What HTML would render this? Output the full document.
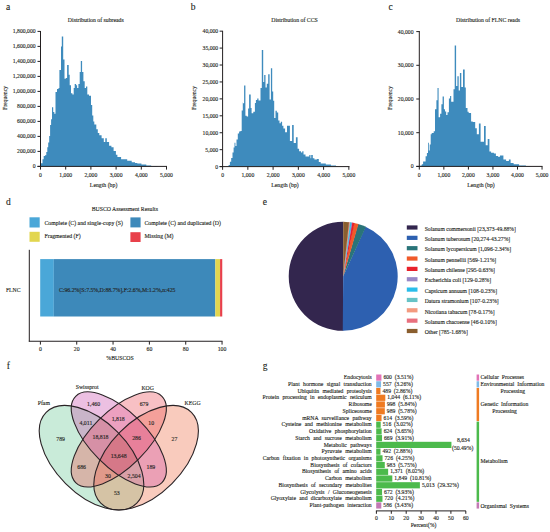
<!DOCTYPE html>
<html><head><meta charset="utf-8"><style>
html,body{margin:0;padding:0;background:#fff;}
svg{display:block;}
text{font-family:"Liberation Serif", serif;stroke:#231f20;stroke-width:0.12px;}
</style></head><body>
<svg width="550" height="532" viewBox="0 0 550 532">
<rect width="550" height="532" fill="#fff"/>
<path d="M40.90,166.40 L40.90,163.20 L42.50,163.20 L42.50,159.20 L43.70,159.20 L43.70,156.00 L45.00,156.00 L45.00,155.20 L46.30,155.20 L46.30,152.00 L47.30,152.00 L47.30,147.20 L48.20,147.20 L48.20,142.40 L49.20,142.40 L49.20,136.00 L50.10,136.00 L50.10,124.90 L51.10,124.90 L51.10,119.30 L52.00,119.30 L52.00,107.30 L53.20,107.30 L53.20,112.10 L54.30,112.10 L54.30,113.70 L55.50,113.70 L55.50,92.00 L57.00,92.00 L57.00,89.00 L58.50,89.00 L58.50,88.00 L59.40,88.00 L59.40,70.10 L61.00,70.10 L61.00,46.40 L61.80,46.40 L61.80,36.60 L63.20,36.60 L63.20,59.60 L64.50,59.60 L64.50,78.70 L65.80,78.70 L65.80,78.00 L67.10,78.00 L67.10,64.90 L68.70,64.90 L68.70,74.70 L69.70,74.70 L69.70,85.30 L71.00,85.30 L71.00,93.20 L72.40,93.20 L72.40,94.50 L73.70,94.50 L73.70,87.90 L74.70,87.90 L74.70,84.00 L76.10,84.00 L76.10,85.30 L77.10,85.30 L77.10,87.90 L78.40,87.90 L78.40,84.00 L79.70,84.00 L79.70,72.10 L80.80,72.10 L80.80,60.90 L82.10,60.90 L82.10,72.10 L83.40,72.10 L83.40,81.30 L84.70,81.30 L84.70,87.90 L86.00,87.90 L86.00,86.60 L87.30,86.60 L87.30,94.50 L89.00,94.50 L89.00,95.80 L91.00,95.80 L91.00,105.00 L92.20,105.00 L92.20,115.60 L93.30,115.60 L93.30,121.60 L94.30,121.60 L94.30,124.60 L96.30,124.60 L96.30,129.20 L97.80,129.20 L97.80,132.90 L99.30,132.90 L99.30,135.20 L101.60,135.20 L101.60,138.20 L103.80,138.20 L103.80,142.00 L105.30,142.00 L105.30,138.20 L106.80,138.20 L106.80,142.00 L109.10,142.00 L109.10,145.70 L111.40,145.70 L111.40,147.20 L113.60,147.20 L113.60,151.00 L115.90,151.00 L115.90,154.80 L117.40,154.80 L117.40,157.00 L121.10,157.00 L121.10,159.30 L127.20,159.30 L127.20,160.80 L131.70,160.80 L131.70,162.30 L135.00,162.30 L135.00,163.00 L137.30,163.00 L137.30,163.60 L141.40,163.60 L141.40,164.60 L146.30,164.60 L146.30,165.40 L151.20,165.40 L151.20,165.90 L156.00,165.90 L156.00,166.10 L159.00,166.40 Z" fill="#3e8bbd"/>
<line x1="40.50" y1="31.00" x2="40.50" y2="166.85" stroke="#231f20" stroke-width="1.0"/>
<line x1="37.50" y1="166.40" x2="40.50" y2="166.40" stroke="#231f20" stroke-width="1.0"/>
<text x="35.60" y="168.35" font-size="5.7" text-anchor="end" fill="#231f20" transform="matrix(1 0 0 1.09 0 -15.152)" >0</text>
<line x1="37.50" y1="151.40" x2="40.50" y2="151.40" stroke="#231f20" stroke-width="1.0"/>
<text x="35.60" y="153.35" font-size="5.7" text-anchor="end" fill="#231f20" transform="matrix(1 0 0 1.09 0 -13.802)" >200,000</text>
<line x1="37.50" y1="136.40" x2="40.50" y2="136.40" stroke="#231f20" stroke-width="1.0"/>
<text x="35.60" y="138.35" font-size="5.7" text-anchor="end" fill="#231f20" transform="matrix(1 0 0 1.09 0 -12.452)" >400,000</text>
<line x1="37.50" y1="121.40" x2="40.50" y2="121.40" stroke="#231f20" stroke-width="1.0"/>
<text x="35.60" y="123.35" font-size="5.7" text-anchor="end" fill="#231f20" transform="matrix(1 0 0 1.09 0 -11.102)" >600,000</text>
<line x1="37.50" y1="106.40" x2="40.50" y2="106.40" stroke="#231f20" stroke-width="1.0"/>
<text x="35.60" y="108.35" font-size="5.7" text-anchor="end" fill="#231f20" transform="matrix(1 0 0 1.09 0 -9.752)" >800,000</text>
<line x1="37.50" y1="91.40" x2="40.50" y2="91.40" stroke="#231f20" stroke-width="1.0"/>
<text x="35.60" y="93.35" font-size="5.7" text-anchor="end" fill="#231f20" transform="matrix(1 0 0 1.09 0 -8.402)" >1,000,000</text>
<line x1="37.50" y1="76.40" x2="40.50" y2="76.40" stroke="#231f20" stroke-width="1.0"/>
<text x="35.60" y="78.35" font-size="5.7" text-anchor="end" fill="#231f20" transform="matrix(1 0 0 1.09 0 -7.052)" >1,200,000</text>
<line x1="37.50" y1="61.40" x2="40.50" y2="61.40" stroke="#231f20" stroke-width="1.0"/>
<text x="35.60" y="63.35" font-size="5.7" text-anchor="end" fill="#231f20" transform="matrix(1 0 0 1.09 0 -5.702)" >1,400,000</text>
<line x1="37.50" y1="46.40" x2="40.50" y2="46.40" stroke="#231f20" stroke-width="1.0"/>
<text x="35.60" y="48.35" font-size="5.7" text-anchor="end" fill="#231f20" transform="matrix(1 0 0 1.09 0 -4.352)" >1,600,000</text>
<line x1="37.50" y1="31.40" x2="40.50" y2="31.40" stroke="#231f20" stroke-width="1.0"/>
<text x="35.60" y="33.35" font-size="5.7" text-anchor="end" fill="#231f20" transform="matrix(1 0 0 1.09 0 -3.002)" >1,800,000</text>
<line x1="37.50" y1="166.40" x2="167.00" y2="166.40" stroke="#231f20" stroke-width="1.0"/>
<line x1="40.50" y1="166.40" x2="40.50" y2="169.60" stroke="#231f20" stroke-width="1.0"/>
<text x="40.50" y="177.25" font-size="5.7" text-anchor="middle" fill="#231f20" transform="matrix(1 0 0 1.09 0 -15.953)" >0</text>
<line x1="65.70" y1="166.40" x2="65.70" y2="169.60" stroke="#231f20" stroke-width="1.0"/>
<text x="65.70" y="177.25" font-size="5.7" text-anchor="middle" fill="#231f20" transform="matrix(1 0 0 1.09 0 -15.953)" >1,000</text>
<line x1="90.90" y1="166.40" x2="90.90" y2="169.60" stroke="#231f20" stroke-width="1.0"/>
<text x="90.90" y="177.25" font-size="5.7" text-anchor="middle" fill="#231f20" transform="matrix(1 0 0 1.09 0 -15.953)" >2,000</text>
<line x1="116.10" y1="166.40" x2="116.10" y2="169.60" stroke="#231f20" stroke-width="1.0"/>
<text x="116.10" y="177.25" font-size="5.7" text-anchor="middle" fill="#231f20" transform="matrix(1 0 0 1.09 0 -15.953)" >3,000</text>
<line x1="141.30" y1="166.40" x2="141.30" y2="169.60" stroke="#231f20" stroke-width="1.0"/>
<text x="141.30" y="177.25" font-size="5.7" text-anchor="middle" fill="#231f20" transform="matrix(1 0 0 1.09 0 -15.953)" >4,000</text>
<line x1="166.50" y1="166.40" x2="166.50" y2="169.60" stroke="#231f20" stroke-width="1.0"/>
<text x="166.50" y="177.25" font-size="5.7" text-anchor="middle" fill="#231f20" transform="matrix(1 0 0 1.09 0 -15.953)" >5,000</text>
<text x="103.60" y="187.35" font-size="5.8" text-anchor="middle" fill="#231f20" transform="matrix(1 0 0 1.09 0 -16.862)" >Length (bp)</text>
<text x="7.40" y="98.00" font-size="5.7" text-anchor="middle" fill="#231f20" transform="rotate(-90 7.40 98)">Frequency</text>
<text x="95.80" y="22.05" font-size="5.8" text-anchor="middle" fill="#231f20" transform="matrix(1 0 0 1.09 0 -1.985)" >Distribution of subreads</text>
<text x="6.00" y="10.00" font-size="9.5" text-anchor="start" fill="#231f20" >a</text>
<path d="M228.60,166.60 L228.60,165.10 L229.90,165.10 L229.90,161.80 L231.20,161.80 L231.20,157.90 L232.50,157.90 L232.50,152.60 L233.60,152.60 L233.60,147.40 L234.50,147.40 L234.50,142.80 L235.40,142.80 L235.40,146.00 L236.50,146.00 L236.50,139.50 L237.80,139.50 L237.80,133.60 L239.10,133.60 L239.10,131.60 L240.40,131.60 L240.40,130.90 L241.70,130.90 L241.70,110.50 L242.80,110.50 L242.80,102.60 L243.00,102.60 L243.00,103.20 L244.10,103.20 L244.10,85.40 L245.40,85.40 L245.40,115.80 L246.70,115.80 L246.70,116.40 L248.10,116.40 L248.10,108.40 L249.10,108.40 L249.10,94.60 L250.70,94.60 L250.70,108.00 L251.60,108.00 L251.60,113.20 L253.30,113.20 L253.30,111.80 L254.90,111.80 L254.90,103.00 L255.90,103.00 L255.90,99.90 L257.20,99.90 L257.20,98.60 L258.50,98.60 L258.50,100.50 L260.50,100.50 L260.50,88.00 L261.80,88.00 L261.80,49.90 L263.20,49.90 L263.20,82.10 L264.20,82.10 L264.20,74.90 L265.50,74.90 L265.50,87.60 L266.80,87.60 L266.80,83.70 L268.20,83.70 L268.20,74.20 L269.60,74.20 L269.60,99.50 L270.90,99.50 L270.90,68.20 L272.20,68.20 L272.20,91.60 L273.20,91.60 L273.20,100.80 L274.20,100.80 L274.20,117.90 L275.50,117.90 L275.50,110.70 L276.80,110.70 L276.80,112.60 L278.20,112.60 L278.20,120.50 L279.50,120.50 L279.50,123.20 L280.80,123.20 L280.80,121.80 L282.10,121.80 L282.10,125.80 L283.40,125.80 L283.40,128.40 L285.10,128.40 L285.10,132.20 L287.00,132.20 L287.00,125.80 L289.90,125.80 L289.90,141.10 L292.10,141.10 L292.10,124.90 L293.70,124.90 L293.70,143.00 L295.90,143.00 L295.90,137.30 L297.60,137.30 L297.60,148.70 L299.10,148.70 L299.10,151.30 L301.00,151.30 L301.00,152.50 L302.30,152.50 L302.30,151.30 L303.50,151.30 L303.50,154.50 L305.50,154.50 L305.50,156.40 L309.30,156.40 L309.30,155.10 L310.50,155.10 L310.50,158.30 L311.20,158.30 L311.20,155.10 L312.80,155.10 L312.80,158.30 L314.40,158.30 L314.40,159.50 L316.90,159.50 L316.90,158.90 L318.80,158.90 L318.80,162.10 L320.70,162.10 L320.70,163.40 L325.80,163.40 L325.80,164.60 L330.90,164.60 L330.90,165.50 L336.00,165.50 L336.00,166.00 L339.00,166.60 Z" fill="#3e8bbd"/>
<line x1="222.60" y1="30.80" x2="222.60" y2="167.05" stroke="#231f20" stroke-width="1.0"/>
<line x1="219.60" y1="166.60" x2="222.60" y2="166.60" stroke="#231f20" stroke-width="1.0"/>
<text x="218.20" y="168.55" font-size="5.7" text-anchor="end" fill="#231f20" transform="matrix(1 0 0 1.09 0 -15.170)" >0</text>
<line x1="219.60" y1="149.67" x2="222.60" y2="149.67" stroke="#231f20" stroke-width="1.0"/>
<text x="218.20" y="151.62" font-size="5.7" text-anchor="end" fill="#231f20" transform="matrix(1 0 0 1.09 0 -13.646)" >5,000</text>
<line x1="219.60" y1="132.74" x2="222.60" y2="132.74" stroke="#231f20" stroke-width="1.0"/>
<text x="218.20" y="134.69" font-size="5.7" text-anchor="end" fill="#231f20" transform="matrix(1 0 0 1.09 0 -12.122)" >10,000</text>
<line x1="219.60" y1="115.81" x2="222.60" y2="115.81" stroke="#231f20" stroke-width="1.0"/>
<text x="218.20" y="117.76" font-size="5.7" text-anchor="end" fill="#231f20" transform="matrix(1 0 0 1.09 0 -10.598)" >15,000</text>
<line x1="219.60" y1="98.88" x2="222.60" y2="98.88" stroke="#231f20" stroke-width="1.0"/>
<text x="218.20" y="100.83" font-size="5.7" text-anchor="end" fill="#231f20" transform="matrix(1 0 0 1.09 0 -9.075)" >20,000</text>
<line x1="219.60" y1="81.95" x2="222.60" y2="81.95" stroke="#231f20" stroke-width="1.0"/>
<text x="218.20" y="83.90" font-size="5.7" text-anchor="end" fill="#231f20" transform="matrix(1 0 0 1.09 0 -7.551)" >25,000</text>
<line x1="219.60" y1="65.02" x2="222.60" y2="65.02" stroke="#231f20" stroke-width="1.0"/>
<text x="218.20" y="66.97" font-size="5.7" text-anchor="end" fill="#231f20" transform="matrix(1 0 0 1.09 0 -6.027)" >30,000</text>
<line x1="219.60" y1="48.09" x2="222.60" y2="48.09" stroke="#231f20" stroke-width="1.0"/>
<text x="218.20" y="50.04" font-size="5.7" text-anchor="end" fill="#231f20" transform="matrix(1 0 0 1.09 0 -4.504)" >35,000</text>
<line x1="219.60" y1="31.16" x2="222.60" y2="31.16" stroke="#231f20" stroke-width="1.0"/>
<text x="218.20" y="33.11" font-size="5.7" text-anchor="end" fill="#231f20" transform="matrix(1 0 0 1.09 0 -2.980)" >40,000</text>
<line x1="219.60" y1="166.60" x2="349.50" y2="166.60" stroke="#231f20" stroke-width="1.0"/>
<line x1="222.60" y1="166.60" x2="222.60" y2="169.80" stroke="#231f20" stroke-width="1.0"/>
<text x="222.60" y="177.25" font-size="5.7" text-anchor="middle" fill="#231f20" transform="matrix(1 0 0 1.09 0 -15.953)" >0</text>
<line x1="247.85" y1="166.60" x2="247.85" y2="169.80" stroke="#231f20" stroke-width="1.0"/>
<text x="247.85" y="177.25" font-size="5.7" text-anchor="middle" fill="#231f20" transform="matrix(1 0 0 1.09 0 -15.953)" >1,000</text>
<line x1="273.10" y1="166.60" x2="273.10" y2="169.80" stroke="#231f20" stroke-width="1.0"/>
<text x="273.10" y="177.25" font-size="5.7" text-anchor="middle" fill="#231f20" transform="matrix(1 0 0 1.09 0 -15.953)" >2,000</text>
<line x1="298.35" y1="166.60" x2="298.35" y2="169.80" stroke="#231f20" stroke-width="1.0"/>
<text x="298.35" y="177.25" font-size="5.7" text-anchor="middle" fill="#231f20" transform="matrix(1 0 0 1.09 0 -15.953)" >3,000</text>
<line x1="323.60" y1="166.60" x2="323.60" y2="169.80" stroke="#231f20" stroke-width="1.0"/>
<text x="323.60" y="177.25" font-size="5.7" text-anchor="middle" fill="#231f20" transform="matrix(1 0 0 1.09 0 -15.953)" >4,000</text>
<line x1="348.85" y1="166.60" x2="348.85" y2="169.80" stroke="#231f20" stroke-width="1.0"/>
<text x="348.85" y="177.25" font-size="5.7" text-anchor="middle" fill="#231f20" transform="matrix(1 0 0 1.09 0 -15.953)" >5,000</text>
<text x="285.00" y="187.35" font-size="5.8" text-anchor="middle" fill="#231f20" transform="matrix(1 0 0 1.09 0 -16.862)" >Length (bp)</text>
<text x="195.80" y="98.00" font-size="5.7" text-anchor="middle" fill="#231f20" transform="rotate(-90 195.80 98)">Frequency</text>
<text x="294.50" y="22.05" font-size="5.8" text-anchor="middle" fill="#231f20" transform="matrix(1 0 0 1.09 0 -1.985)" >Distribution of CCS</text>
<text x="190.80" y="9.60" font-size="9.5" text-anchor="start" fill="#231f20" >b</text>
<path d="M420.30,166.40 L420.50,165.60 L421.80,165.60 L421.80,164.30 L423.10,164.30 L423.10,161.40 L425.60,161.40 L425.60,156.30 L426.90,156.30 L426.90,152.90 L428.00,152.90 L428.00,142.80 L428.80,142.80 L428.80,150.40 L429.70,150.40 L429.70,144.50 L430.70,144.50 L430.70,134.30 L431.70,134.30 L431.70,133.00 L433.70,133.00 L433.70,131.30 L435.00,131.30 L435.00,109.30 L436.40,109.30 L436.40,100.30 L437.50,100.30 L437.50,87.90 L438.60,87.90 L438.60,117.20 L440.10,117.20 L440.10,113.80 L441.40,113.80 L441.40,104.20 L442.60,104.20 L442.60,96.40 L443.90,96.40 L443.90,109.30 L445.00,109.30 L445.00,111.60 L446.20,111.60 L446.20,115.00 L447.50,115.00 L447.50,112.20 L448.90,112.20 L448.90,98.50 L450.10,98.50 L450.10,96.00 L451.20,96.00 L451.20,101.70 L453.50,101.70 L453.50,89.30 L454.70,89.30 L454.70,45.40 L456.10,45.40 L456.10,85.90 L457.40,85.90 L457.40,76.30 L458.70,76.30 L458.70,90.40 L459.90,90.40 L459.90,73.00 L461.30,73.00 L461.30,87.00 L463.00,87.00 L463.00,69.60 L464.70,69.60 L464.70,87.60 L465.80,87.60 L465.80,107.90 L467.50,107.90 L467.50,111.80 L468.70,111.80 L468.70,113.00 L470.90,113.00 L470.90,113.20 L471.10,113.20 L471.10,121.40 L472.70,121.40 L472.70,122.00 L475.20,122.00 L475.20,128.20 L476.80,128.20 L476.80,134.30 L478.90,134.30 L478.90,123.40 L480.60,123.40 L480.60,141.80 L484.00,141.80 L484.00,126.10 L485.70,126.10 L485.70,145.20 L487.70,145.20 L487.70,139.10 L489.40,139.10 L489.40,151.40 L491.10,151.40 L491.10,152.70 L493.90,152.70 L493.90,153.40 L495.90,153.40 L495.90,156.10 L498.00,156.10 L498.00,156.80 L500.00,156.80 L500.00,155.50 L503.40,155.50 L503.40,159.50 L506.10,159.50 L506.10,160.90 L508.90,160.90 L508.90,159.50 L510.60,159.50 L510.60,163.00 L513.60,163.00 L513.60,164.30 L519.10,164.30 L519.10,165.40 L525.90,165.40 L525.90,166.00 L530.00,166.00 L530.00,166.20 L533.00,166.40 Z" fill="#3e8bbd"/>
<line x1="419.30" y1="31.00" x2="419.30" y2="166.85" stroke="#231f20" stroke-width="1.0"/>
<line x1="416.30" y1="166.40" x2="419.30" y2="166.40" stroke="#231f20" stroke-width="1.0"/>
<text x="413.50" y="168.35" font-size="5.7" text-anchor="end" fill="#231f20" transform="matrix(1 0 0 1.09 0 -15.152)" >0</text>
<line x1="416.30" y1="132.70" x2="419.30" y2="132.70" stroke="#231f20" stroke-width="1.0"/>
<text x="413.50" y="134.65" font-size="5.7" text-anchor="end" fill="#231f20" transform="matrix(1 0 0 1.09 0 -12.119)" >10,000</text>
<line x1="416.30" y1="99.00" x2="419.30" y2="99.00" stroke="#231f20" stroke-width="1.0"/>
<text x="413.50" y="100.95" font-size="5.7" text-anchor="end" fill="#231f20" transform="matrix(1 0 0 1.09 0 -9.086)" >20,000</text>
<line x1="416.30" y1="65.30" x2="419.30" y2="65.30" stroke="#231f20" stroke-width="1.0"/>
<text x="413.50" y="67.25" font-size="5.7" text-anchor="end" fill="#231f20" transform="matrix(1 0 0 1.09 0 -6.053)" >30,000</text>
<line x1="416.30" y1="31.60" x2="419.30" y2="31.60" stroke="#231f20" stroke-width="1.0"/>
<text x="413.50" y="33.55" font-size="5.7" text-anchor="end" fill="#231f20" transform="matrix(1 0 0 1.09 0 -3.020)" >40,000</text>
<line x1="416.30" y1="166.40" x2="542.50" y2="166.40" stroke="#231f20" stroke-width="1.0"/>
<line x1="419.30" y1="166.40" x2="419.30" y2="169.60" stroke="#231f20" stroke-width="1.0"/>
<text x="419.30" y="177.25" font-size="5.7" text-anchor="middle" fill="#231f20" transform="matrix(1 0 0 1.09 0 -15.953)" >0</text>
<line x1="443.85" y1="166.40" x2="443.85" y2="169.60" stroke="#231f20" stroke-width="1.0"/>
<text x="443.85" y="177.25" font-size="5.7" text-anchor="middle" fill="#231f20" transform="matrix(1 0 0 1.09 0 -15.953)" >1,000</text>
<line x1="468.40" y1="166.40" x2="468.40" y2="169.60" stroke="#231f20" stroke-width="1.0"/>
<text x="468.40" y="177.25" font-size="5.7" text-anchor="middle" fill="#231f20" transform="matrix(1 0 0 1.09 0 -15.953)" >2,000</text>
<line x1="492.95" y1="166.40" x2="492.95" y2="169.60" stroke="#231f20" stroke-width="1.0"/>
<text x="492.95" y="177.25" font-size="5.7" text-anchor="middle" fill="#231f20" transform="matrix(1 0 0 1.09 0 -15.953)" >3,000</text>
<line x1="517.50" y1="166.40" x2="517.50" y2="169.60" stroke="#231f20" stroke-width="1.0"/>
<text x="517.50" y="177.25" font-size="5.7" text-anchor="middle" fill="#231f20" transform="matrix(1 0 0 1.09 0 -15.953)" >4,000</text>
<line x1="542.05" y1="166.40" x2="542.05" y2="169.60" stroke="#231f20" stroke-width="1.0"/>
<text x="542.05" y="177.25" font-size="5.7" text-anchor="middle" fill="#231f20" transform="matrix(1 0 0 1.09 0 -15.953)" >5,000</text>
<text x="481.00" y="187.35" font-size="5.8" text-anchor="middle" fill="#231f20" transform="matrix(1 0 0 1.09 0 -16.862)" >Length (bp)</text>
<text x="391.70" y="98.00" font-size="5.7" text-anchor="middle" fill="#231f20" transform="rotate(-90 391.70 98)">Frequency</text>
<text x="488.00" y="22.05" font-size="5.8" text-anchor="middle" fill="#231f20" transform="matrix(1 0 0 1.09 0 -1.985)" >Distribution of FLNC reads</text>
<text x="388.60" y="9.90" font-size="9.5" text-anchor="start" fill="#231f20" >c</text>
<text x="6.00" y="204.50" font-size="9.5" text-anchor="start" fill="#231f20" >d</text>
<text x="124.80" y="210.85" font-size="5.8" text-anchor="middle" fill="#231f20" transform="matrix(1 0 0 1.09 0 -18.977)" >BUSCO Assessment Results</text>
<rect x="29.50" y="217.30" width="10.20" height="10.20" fill="#4aa7d8" />
<rect x="130.40" y="217.40" width="10.20" height="10.00" fill="#3d89ba" />
<rect x="29.50" y="231.80" width="10.20" height="10.00" fill="#e2d64f" />
<rect x="130.40" y="232.20" width="10.20" height="9.80" fill="#e8404a" />
<text x="44.50" y="224.55" font-size="5.8" text-anchor="start" fill="#231f20" transform="matrix(1 0 0 1.09 0 -20.210)" >Complete (C) and single-copy (S)</text>
<text x="144.40" y="224.55" font-size="5.8" text-anchor="start" fill="#231f20" transform="matrix(1 0 0 1.09 0 -20.210)" >Complete (C) and duplicated (D)</text>
<text x="44.50" y="238.05" font-size="5.8" text-anchor="start" fill="#231f20" transform="matrix(1 0 0 1.09 0 -21.425)" >Fragmented (F)</text>
<text x="144.40" y="238.05" font-size="5.8" text-anchor="start" fill="#231f20" transform="matrix(1 0 0 1.09 0 -21.425)" >Missing (M)</text>
<rect x="40.20" y="259.10" width="13.65" height="57.40" fill="#4aa7d8" />
<rect x="53.85" y="259.10" width="161.48" height="57.40" fill="#3d89ba" />
<rect x="215.33" y="259.10" width="4.73" height="57.40" fill="#e2d64f" />
<rect x="220.07" y="259.10" width="2.18" height="57.40" fill="#e8404a" />
<text x="59.00" y="291.85" font-size="5.8" text-anchor="start" fill="#231f20" transform="matrix(1 0 0 1.09 0 -26.267)" >C:96.2%[S:7.5%,D:88.7%],F:2.6%,M:1.2%,n:425</text>
<text x="5.90" y="292.15" font-size="5.7" text-anchor="start" fill="#231f20" transform="matrix(1 0 0 1.09 0 -26.294)" >FLNC</text>
<line x1="29.30" y1="249.80" x2="29.30" y2="341.50" stroke="#231f20" stroke-width="1.0"/>
<line x1="28.80" y1="341.30" x2="222.50" y2="341.30" stroke="#231f20" stroke-width="1.1"/>
<line x1="40.40" y1="341.30" x2="40.40" y2="344.60" stroke="#231f20" stroke-width="1.0"/>
<text x="40.40" y="350.95" font-size="5.8" text-anchor="middle" fill="#231f20" transform="matrix(1 0 0 1.09 0 -31.586)" >0</text>
<line x1="76.73" y1="341.30" x2="76.73" y2="344.60" stroke="#231f20" stroke-width="1.0"/>
<text x="76.73" y="350.95" font-size="5.8" text-anchor="middle" fill="#231f20" transform="matrix(1 0 0 1.09 0 -31.586)" >20</text>
<line x1="113.06" y1="341.30" x2="113.06" y2="344.60" stroke="#231f20" stroke-width="1.0"/>
<text x="113.06" y="350.95" font-size="5.8" text-anchor="middle" fill="#231f20" transform="matrix(1 0 0 1.09 0 -31.586)" >40</text>
<line x1="149.39" y1="341.30" x2="149.39" y2="344.60" stroke="#231f20" stroke-width="1.0"/>
<text x="149.39" y="350.95" font-size="5.8" text-anchor="middle" fill="#231f20" transform="matrix(1 0 0 1.09 0 -31.586)" >60</text>
<line x1="185.72" y1="341.30" x2="185.72" y2="344.60" stroke="#231f20" stroke-width="1.0"/>
<text x="185.72" y="350.95" font-size="5.8" text-anchor="middle" fill="#231f20" transform="matrix(1 0 0 1.09 0 -31.586)" >80</text>
<line x1="222.05" y1="341.30" x2="222.05" y2="344.60" stroke="#231f20" stroke-width="1.0"/>
<text x="222.05" y="350.95" font-size="5.8" text-anchor="middle" fill="#231f20" transform="matrix(1 0 0 1.09 0 -31.586)" >100</text>
<text x="120.00" y="359.85" font-size="5.8" text-anchor="middle" fill="#231f20" transform="matrix(1 0 0 1.09 0 -32.387)" >%BUSCOS</text>
<text x="262.80" y="204.70" font-size="9.5" text-anchor="start" fill="#231f20" >e</text>
<path d="M343.20,276.35 L343.200,221.850 A54.5,54.5 0 0 0 343.231,330.850 Z" fill="#33264e"/>
<path d="M343.20,276.35 L342.755,330.848 A54.5,54.5 0 0 0 365.564,226.650 Z" fill="#2d60b0"/>
<path d="M343.20,276.35 L365.997,226.847 A54.5,54.5 0 0 0 358.044,223.910 Z" fill="#2a7479"/>
<path d="M343.20,276.35 L358.501,224.042 A54.5,54.5 0 0 0 354.019,222.935 Z" fill="#f05a2a"/>
<path d="M343.20,276.35 L354.484,223.031 A54.5,54.5 0 0 0 351.897,222.548 Z" fill="#e8212b"/>
<path d="M343.20,276.35 L352.366,222.626 A54.5,54.5 0 0 0 350.949,222.404 Z" fill="#9888c6"/>
<path d="M343.20,276.35 L351.420,222.473 A54.5,54.5 0 0 0 350.169,222.297 Z" fill="#29bdea"/>
<path d="M343.20,276.35 L350.640,222.360 A54.5,54.5 0 0 0 349.387,222.202 Z" fill="#66c3c6"/>
<path d="M343.20,276.35 L349.859,222.258 A54.5,54.5 0 0 0 348.809,222.139 Z" fill="#f39a7f"/>
<path d="M343.20,276.35 L349.281,222.190 A54.5,54.5 0 0 0 348.468,222.105 Z" fill="#e8707e"/>
<path d="M343.20,276.35 L348.941,222.153 A54.5,54.5 0 0 0 343.200,221.850 Z" fill="#8a5e2e"/>
<rect x="406.80" y="225.40" width="10.70" height="4.20" fill="#33264e" />
<text x="424.70" y="230.75" font-size="5.67" text-anchor="start" fill="#231f20" transform="matrix(1 0 0 1.09 0 -20.768)" >Solanum commersonii [23,373-49.88%]</text>
<rect x="406.80" y="235.75" width="10.70" height="4.20" fill="#2d60b0" />
<text x="424.70" y="241.10" font-size="5.67" text-anchor="start" fill="#231f20" transform="matrix(1 0 0 1.09 0 -21.699)" >Solanum tuberosum [20,274-43.27%]</text>
<rect x="406.80" y="246.10" width="10.70" height="4.20" fill="#2a7479" />
<text x="424.70" y="251.45" font-size="5.67" text-anchor="start" fill="#231f20" transform="matrix(1 0 0 1.09 0 -22.631)" >Solanum lycopersicum [1,096-2.34%]</text>
<rect x="406.80" y="256.45" width="10.70" height="4.20" fill="#f05a2a" />
<text x="424.70" y="261.80" font-size="5.67" text-anchor="start" fill="#231f20" transform="matrix(1 0 0 1.09 0 -23.562)" >Solanum pennellii [569-1.21%]</text>
<rect x="406.80" y="266.80" width="10.70" height="4.20" fill="#e8212b" />
<text x="424.70" y="272.15" font-size="5.67" text-anchor="start" fill="#231f20" transform="matrix(1 0 0 1.09 0 -24.494)" >Solanum chilense [295-0.63%]</text>
<rect x="406.80" y="277.15" width="10.70" height="4.20" fill="#9888c6" />
<text x="424.70" y="282.50" font-size="5.67" text-anchor="start" fill="#231f20" transform="matrix(1 0 0 1.09 0 -25.425)" >Escherichia coli [129-0.28%]</text>
<rect x="406.80" y="287.50" width="10.70" height="4.20" fill="#29bdea" />
<text x="424.70" y="292.85" font-size="5.67" text-anchor="start" fill="#231f20" transform="matrix(1 0 0 1.09 0 -26.357)" >Capsicum annuum [108-0.23%]</text>
<rect x="406.80" y="297.85" width="10.70" height="4.20" fill="#66c3c6" />
<text x="424.70" y="303.20" font-size="5.67" text-anchor="start" fill="#231f20" transform="matrix(1 0 0 1.09 0 -27.288)" >Datura stramonium [107-0.23%]</text>
<rect x="406.80" y="308.20" width="10.70" height="4.20" fill="#f39a7f" />
<text x="424.70" y="313.55" font-size="5.67" text-anchor="start" fill="#231f20" transform="matrix(1 0 0 1.09 0 -28.220)" >Nicotiana tabacum [78-0.17%]</text>
<rect x="406.80" y="318.55" width="10.70" height="4.20" fill="#e8707e" />
<text x="424.70" y="323.90" font-size="5.67" text-anchor="start" fill="#231f20" transform="matrix(1 0 0 1.09 0 -29.151)" >Solanum chacoense [46-0.10%]</text>
<rect x="406.80" y="328.90" width="10.70" height="4.20" fill="#8a5e2e" />
<text x="424.70" y="334.25" font-size="5.67" text-anchor="start" fill="#231f20" transform="matrix(1 0 0 1.09 0 -30.083)" >Other [785-1.68%]</text>
<text x="6.80" y="368.90" font-size="9.5" text-anchor="start" fill="#231f20" >f</text>
<defs>
<clipPath id="cP"><ellipse cx="91.5" cy="457.7" rx="64.1" ry="36.6" transform="rotate(45 91.5 457.7)" fill="#000" /></clipPath>
<clipPath id="cS"><ellipse cx="118.8" cy="439.4" rx="61.0" ry="28.0" transform="rotate(45 118.8 439.4)" fill="#000" /></clipPath>
<clipPath id="cK"><ellipse cx="118.8" cy="439.4" rx="61.0" ry="28.0" transform="rotate(-45 118.8 439.4)" fill="#000" /></clipPath>
<clipPath id="cE"><ellipse cx="146.1" cy="457.7" rx="64.1" ry="36.6" transform="rotate(-45 146.1 457.7)" fill="#000" /></clipPath>
</defs>
<ellipse cx="91.5" cy="457.7" rx="64.1" ry="36.6" transform="rotate(45 91.5 457.7)" fill="#c9ebd9" />
<ellipse cx="118.8" cy="439.4" rx="61.0" ry="28.0" transform="rotate(45 118.8 439.4)" fill="#ecc0e2" />
<ellipse cx="118.8" cy="439.4" rx="61.0" ry="28.0" transform="rotate(-45 118.8 439.4)" fill="#f8c0c4" />
<ellipse cx="146.1" cy="457.7" rx="64.1" ry="36.6" transform="rotate(-45 146.1 457.7)" fill="#f9cbbd" />
<g clip-path="url(#cP)"><ellipse cx="118.8" cy="439.4" rx="61.0" ry="28.0" transform="rotate(45 118.8 439.4)" fill="#c9b5c9" /></g>
<g clip-path="url(#cP)"><ellipse cx="118.8" cy="439.4" rx="61.0" ry="28.0" transform="rotate(-45 118.8 439.4)" fill="#d6b5a9" /></g>
<g clip-path="url(#cP)"><ellipse cx="146.1" cy="457.7" rx="64.1" ry="36.6" transform="rotate(-45 146.1 457.7)" fill="#d5c3a5" /></g>
<g clip-path="url(#cS)"><ellipse cx="118.8" cy="439.4" rx="61.0" ry="28.0" transform="rotate(-45 118.8 439.4)" fill="#eca0c0" /></g>
<g clip-path="url(#cS)"><ellipse cx="146.1" cy="457.7" rx="64.1" ry="36.6" transform="rotate(-45 146.1 457.7)" fill="#eba0b5" /></g>
<g clip-path="url(#cK)"><ellipse cx="146.1" cy="457.7" rx="64.1" ry="36.6" transform="rotate(-45 146.1 457.7)" fill="#f4a09a" /></g>
<g clip-path="url(#cS)"><g clip-path="url(#cP)"><ellipse cx="118.8" cy="439.4" rx="61.0" ry="28.0" transform="rotate(-45 118.8 439.4)" fill="#d690a6" /></g></g>
<g clip-path="url(#cS)"><g clip-path="url(#cP)"><ellipse cx="146.1" cy="457.7" rx="64.1" ry="36.6" transform="rotate(-45 146.1 457.7)" fill="#d9a0a8" /></g></g>
<g clip-path="url(#cK)"><g clip-path="url(#cP)"><ellipse cx="146.1" cy="457.7" rx="64.1" ry="36.6" transform="rotate(-45 146.1 457.7)" fill="#e0998a" /></g></g>
<g clip-path="url(#cK)"><g clip-path="url(#cS)"><ellipse cx="146.1" cy="457.7" rx="64.1" ry="36.6" transform="rotate(-45 146.1 457.7)" fill="#e8809a" /></g></g>
<g clip-path="url(#cK)"><g clip-path="url(#cS)"><g clip-path="url(#cP)"><ellipse cx="146.1" cy="457.7" rx="64.1" ry="36.6" transform="rotate(-45 146.1 457.7)" fill="#d67888" /></g></g></g>
<ellipse cx="91.5" cy="457.7" rx="64.1" ry="36.6" transform="rotate(45 91.5 457.7)" fill="none" stroke="#2a2326" stroke-width="1.1"/>
<ellipse cx="118.8" cy="439.4" rx="61.0" ry="28.0" transform="rotate(45 118.8 439.4)" fill="none" stroke="#2a2326" stroke-width="1.1"/>
<ellipse cx="118.8" cy="439.4" rx="61.0" ry="28.0" transform="rotate(-45 118.8 439.4)" fill="none" stroke="#2a2326" stroke-width="1.1"/>
<ellipse cx="146.1" cy="457.7" rx="64.1" ry="36.6" transform="rotate(-45 146.1 457.7)" fill="none" stroke="#2a2326" stroke-width="1.1"/>
<text x="60.60" y="441.45" font-size="5.8" text-anchor="middle" fill="#231f20" transform="matrix(1 0 0 1.09 0 -39.731)" >789</text>
<text x="93.60" y="406.35" font-size="5.8" text-anchor="middle" fill="#231f20" transform="matrix(1 0 0 1.09 0 -36.572)" >1,460</text>
<text x="144.00" y="405.95" font-size="5.8" text-anchor="middle" fill="#231f20" transform="matrix(1 0 0 1.09 0 -36.536)" >679</text>
<text x="174.50" y="441.25" font-size="5.8" text-anchor="middle" fill="#231f20" transform="matrix(1 0 0 1.09 0 -39.713)" >27</text>
<text x="85.90" y="424.55" font-size="5.8" text-anchor="middle" fill="#231f20" transform="matrix(1 0 0 1.09 0 -38.210)" >4,011</text>
<text x="118.20" y="420.55" font-size="5.8" text-anchor="middle" fill="#231f20" transform="matrix(1 0 0 1.09 0 -37.850)" >1,818</text>
<text x="151.20" y="424.55" font-size="5.8" text-anchor="middle" fill="#231f20" transform="matrix(1 0 0 1.09 0 -38.210)" >10</text>
<text x="100.50" y="439.45" font-size="5.8" text-anchor="middle" fill="#231f20" transform="matrix(1 0 0 1.09 0 -39.551)" >18,818</text>
<text x="136.50" y="439.95" font-size="5.8" text-anchor="middle" fill="#231f20" transform="matrix(1 0 0 1.09 0 -39.596)" >286</text>
<text x="118.60" y="458.15" font-size="5.8" text-anchor="middle" fill="#231f20" transform="matrix(1 0 0 1.09 0 -41.234)" >13,648</text>
<text x="81.60" y="469.05" font-size="5.8" text-anchor="middle" fill="#231f20" transform="matrix(1 0 0 1.09 0 -42.215)" >686</text>
<text x="150.90" y="469.05" font-size="5.8" text-anchor="middle" fill="#231f20" transform="matrix(1 0 0 1.09 0 -42.215)" >189</text>
<text x="108.00" y="478.25" font-size="5.8" text-anchor="middle" fill="#231f20" transform="matrix(1 0 0 1.09 0 -43.043)" >30</text>
<text x="134.10" y="478.25" font-size="5.8" text-anchor="middle" fill="#231f20" transform="matrix(1 0 0 1.09 0 -43.043)" >2,504</text>
<text x="116.80" y="495.25" font-size="5.8" text-anchor="middle" fill="#231f20" transform="matrix(1 0 0 1.09 0 -44.573)" >53</text>
<text x="43.80" y="404.95" font-size="5.8" text-anchor="middle" fill="#231f20" transform="matrix(1 0 0 1.09 0 -36.446)" >Pfam</text>
<text x="87.10" y="388.65" font-size="5.8" text-anchor="middle" fill="#231f20" transform="matrix(1 0 0 1.09 0 -34.979)" >Swissprot</text>
<text x="147.70" y="389.95" font-size="5.8" text-anchor="middle" fill="#231f20" transform="matrix(1 0 0 1.09 0 -35.096)" >KOG</text>
<text x="192.60" y="405.35" font-size="5.8" text-anchor="middle" fill="#231f20" transform="matrix(1 0 0 1.09 0 -36.482)" >KEGG</text>
<text x="262.80" y="368.50" font-size="9.5" text-anchor="start" fill="#231f20" >g</text>
<rect x="376.20" y="374.50" width="5.23" height="6.20" fill="#e273b7" />
<text x="371.70" y="379.25" font-size="5.7" text-anchor="end" fill="#231f20" transform="matrix(1 0 0 1.09 0 -34.133)" word-spacing="1.9">Endocytosis</text>
<text x="383.43" y="379.25" font-size="5.7" text-anchor="start" fill="#231f20" transform="matrix(1 0 0 1.09 0 -34.133)" word-spacing="1.4">600 (3.51%)</text>
<rect x="376.20" y="381.23" width="4.86" height="6.20" fill="#80b9e6" />
<text x="371.70" y="385.98" font-size="5.7" text-anchor="end" fill="#231f20" transform="matrix(1 0 0 1.09 0 -34.738)" word-spacing="1.9">Plant hormone signal transduction</text>
<text x="383.06" y="385.98" font-size="5.7" text-anchor="start" fill="#231f20" transform="matrix(1 0 0 1.09 0 -34.738)" word-spacing="1.4">557 (3.26%)</text>
<rect x="376.20" y="387.96" width="4.26" height="6.20" fill="#ef7b22" />
<text x="371.70" y="392.71" font-size="5.7" text-anchor="end" fill="#231f20" transform="matrix(1 0 0 1.09 0 -35.344)" word-spacing="1.9">Ubiquitin mediated proteolysis</text>
<text x="382.46" y="392.71" font-size="5.7" text-anchor="start" fill="#231f20" transform="matrix(1 0 0 1.09 0 -35.344)" word-spacing="1.4">489 (2.86%)</text>
<rect x="376.20" y="394.69" width="9.10" height="6.20" fill="#ef7b22" />
<text x="371.70" y="399.44" font-size="5.7" text-anchor="end" fill="#231f20" transform="matrix(1 0 0 1.09 0 -35.950)" word-spacing="1.9">Protein processing in endoplasmic reticulum</text>
<text x="387.30" y="399.44" font-size="5.7" text-anchor="start" fill="#231f20" transform="matrix(1 0 0 1.09 0 -35.950)" word-spacing="1.4">1,044 (6.11%)</text>
<rect x="376.20" y="401.42" width="8.70" height="6.20" fill="#ef7b22" />
<text x="371.70" y="406.17" font-size="5.7" text-anchor="end" fill="#231f20" transform="matrix(1 0 0 1.09 0 -36.555)" word-spacing="1.9">Ribosome</text>
<text x="386.90" y="406.17" font-size="5.7" text-anchor="start" fill="#231f20" transform="matrix(1 0 0 1.09 0 -36.555)" word-spacing="1.4">998 (5.84%)</text>
<rect x="376.20" y="408.15" width="8.61" height="6.20" fill="#ef7b22" />
<text x="371.70" y="412.90" font-size="5.7" text-anchor="end" fill="#231f20" transform="matrix(1 0 0 1.09 0 -37.161)" word-spacing="1.9">Spliceosome</text>
<text x="386.81" y="412.90" font-size="5.7" text-anchor="start" fill="#231f20" transform="matrix(1 0 0 1.09 0 -37.161)" word-spacing="1.4">989 (5.78%)</text>
<rect x="376.20" y="414.88" width="5.35" height="6.20" fill="#ef7b22" />
<text x="371.70" y="419.63" font-size="5.7" text-anchor="end" fill="#231f20" transform="matrix(1 0 0 1.09 0 -37.767)" word-spacing="1.9">mRNA surveillance pathway</text>
<text x="383.55" y="419.63" font-size="5.7" text-anchor="start" fill="#231f20" transform="matrix(1 0 0 1.09 0 -37.767)" word-spacing="1.4">614 (3.59%)</text>
<rect x="376.20" y="421.61" width="4.50" height="6.20" fill="#4cba4c" />
<text x="371.70" y="426.36" font-size="5.7" text-anchor="end" fill="#231f20" transform="matrix(1 0 0 1.09 0 -38.372)" word-spacing="1.9">Cysteine and methionine metabolism</text>
<text x="382.70" y="426.36" font-size="5.7" text-anchor="start" fill="#231f20" transform="matrix(1 0 0 1.09 0 -38.372)" word-spacing="1.4">516 (3.02%)</text>
<rect x="376.20" y="428.34" width="5.44" height="6.20" fill="#4cba4c" />
<text x="371.70" y="433.09" font-size="5.7" text-anchor="end" fill="#231f20" transform="matrix(1 0 0 1.09 0 -38.978)" word-spacing="1.9">Oxidative phosphorylation</text>
<text x="383.64" y="433.09" font-size="5.7" text-anchor="start" fill="#231f20" transform="matrix(1 0 0 1.09 0 -38.978)" word-spacing="1.4">624 (3.65%)</text>
<rect x="376.20" y="435.07" width="5.83" height="6.20" fill="#4cba4c" />
<text x="371.70" y="439.82" font-size="5.7" text-anchor="end" fill="#231f20" transform="matrix(1 0 0 1.09 0 -39.584)" word-spacing="1.9">Starch and sucrose metabolism</text>
<text x="384.03" y="439.82" font-size="5.7" text-anchor="start" fill="#231f20" transform="matrix(1 0 0 1.09 0 -39.584)" word-spacing="1.4">669 (3.91%)</text>
<rect x="376.20" y="441.80" width="75.23" height="6.20" fill="#4cba4c" />
<text x="371.70" y="446.55" font-size="5.7" text-anchor="end" fill="#231f20" transform="matrix(1 0 0 1.09 0 -40.190)" word-spacing="1.9">Metabolic pathways</text>
<text x="456.93" y="442.45" font-size="5.7" text-anchor="start" fill="#231f20" transform="matrix(1 0 0 1.09 0 -39.821)" >8,634</text>
<text x="452.03" y="449.75" font-size="5.7" text-anchor="start" fill="#231f20" transform="matrix(1 0 0 1.09 0 -40.478)" >(50.49%)</text>
<rect x="376.20" y="448.53" width="4.29" height="6.20" fill="#4cba4c" />
<text x="371.70" y="453.28" font-size="5.7" text-anchor="end" fill="#231f20" transform="matrix(1 0 0 1.09 0 -40.795)" word-spacing="1.9">Pyruvate metabolism</text>
<text x="382.49" y="453.28" font-size="5.7" text-anchor="start" fill="#231f20" transform="matrix(1 0 0 1.09 0 -40.795)" word-spacing="1.4">492 (2.88%)</text>
<rect x="376.20" y="455.26" width="6.33" height="6.20" fill="#4cba4c" />
<text x="371.70" y="460.01" font-size="5.7" text-anchor="end" fill="#231f20" transform="matrix(1 0 0 1.09 0 -41.401)" word-spacing="1.9">Carbon fixation in photosynthetic organisms</text>
<text x="384.53" y="460.01" font-size="5.7" text-anchor="start" fill="#231f20" transform="matrix(1 0 0 1.09 0 -41.401)" word-spacing="1.4">726 (4.25%)</text>
<rect x="376.20" y="461.99" width="8.57" height="6.20" fill="#4cba4c" />
<text x="371.70" y="466.74" font-size="5.7" text-anchor="end" fill="#231f20" transform="matrix(1 0 0 1.09 0 -42.007)" word-spacing="1.9">Biosynthesis of cofactors</text>
<text x="386.77" y="466.74" font-size="5.7" text-anchor="start" fill="#231f20" transform="matrix(1 0 0 1.09 0 -42.007)" word-spacing="1.4">983 (5.75%)</text>
<rect x="376.20" y="468.72" width="11.95" height="6.20" fill="#4cba4c" />
<text x="371.70" y="473.47" font-size="5.7" text-anchor="end" fill="#231f20" transform="matrix(1 0 0 1.09 0 -42.612)" word-spacing="1.9">Biosynthesis of amino acids</text>
<text x="390.15" y="473.47" font-size="5.7" text-anchor="start" fill="#231f20" transform="matrix(1 0 0 1.09 0 -42.612)" word-spacing="1.4">1,371 (8.02%)</text>
<rect x="376.20" y="475.45" width="16.11" height="6.20" fill="#4cba4c" />
<text x="371.70" y="480.20" font-size="5.7" text-anchor="end" fill="#231f20" transform="matrix(1 0 0 1.09 0 -43.218)" word-spacing="1.9">Carbon metabolism</text>
<text x="394.31" y="480.20" font-size="5.7" text-anchor="start" fill="#231f20" transform="matrix(1 0 0 1.09 0 -43.218)" word-spacing="1.4">1,849 (10.81%)</text>
<rect x="376.20" y="482.18" width="43.69" height="6.20" fill="#4cba4c" />
<text x="371.70" y="486.93" font-size="5.7" text-anchor="end" fill="#231f20" transform="matrix(1 0 0 1.09 0 -43.824)" word-spacing="1.9">Biosynthesis of secondary metabolites</text>
<text x="421.89" y="486.93" font-size="5.7" text-anchor="start" fill="#231f20" transform="matrix(1 0 0 1.09 0 -43.824)" word-spacing="1.4">5,013 (29.32%)</text>
<rect x="376.20" y="488.91" width="5.86" height="6.20" fill="#4cba4c" />
<text x="371.70" y="493.66" font-size="5.7" text-anchor="end" fill="#231f20" transform="matrix(1 0 0 1.09 0 -44.429)" word-spacing="1.9">Glycolysis / Gluconeogenesis</text>
<text x="384.06" y="493.66" font-size="5.7" text-anchor="start" fill="#231f20" transform="matrix(1 0 0 1.09 0 -44.429)" word-spacing="1.4">672 (3.93%)</text>
<rect x="376.20" y="495.64" width="6.27" height="6.20" fill="#4cba4c" />
<text x="371.70" y="500.39" font-size="5.7" text-anchor="end" fill="#231f20" transform="matrix(1 0 0 1.09 0 -45.035)" word-spacing="1.9">Glyoxylate and dicarboxylate metabolism</text>
<text x="384.47" y="500.39" font-size="5.7" text-anchor="start" fill="#231f20" transform="matrix(1 0 0 1.09 0 -45.035)" word-spacing="1.4">720 (4.21%)</text>
<rect x="376.20" y="502.37" width="5.11" height="6.20" fill="#c37ab5" />
<text x="371.70" y="507.12" font-size="5.7" text-anchor="end" fill="#231f20" transform="matrix(1 0 0 1.09 0 -45.641)" word-spacing="1.9">Plant-pathogen interaction</text>
<text x="383.31" y="507.12" font-size="5.7" text-anchor="start" fill="#231f20" transform="matrix(1 0 0 1.09 0 -45.641)" word-spacing="1.4">586 (3.43%)</text>
<rect x="476.60" y="374.50" width="2.50" height="6.20" fill="#e273b7" />
<rect x="476.60" y="381.23" width="2.50" height="6.20" fill="#80b9e6" />
<rect x="476.60" y="387.96" width="2.50" height="33.12" fill="#ef7b22" />
<rect x="476.60" y="421.61" width="2.50" height="80.23" fill="#4cba4c" />
<rect x="476.60" y="502.37" width="2.50" height="6.20" fill="#c37ab5" />
<text x="480.50" y="378.95" font-size="5.7" text-anchor="start" fill="#231f20" transform="matrix(1 0 0 1.09 0 -34.106)" word-spacing="1.5">Cellular Processes</text>
<text x="480.50" y="385.85" font-size="5.7" text-anchor="start" fill="#231f20" transform="matrix(1 0 0 1.09 0 -34.727)" word-spacing="1.5">Environmental Information</text>
<text x="512.80" y="392.75" font-size="5.7" text-anchor="middle" fill="#231f20" transform="matrix(1 0 0 1.09 0 -35.348)" >Processing</text>
<text x="480.50" y="405.85" font-size="5.7" text-anchor="start" fill="#231f20" transform="matrix(1 0 0 1.09 0 -36.527)" word-spacing="1.5">Genetic Information</text>
<text x="504.60" y="412.75" font-size="5.7" text-anchor="middle" fill="#231f20" transform="matrix(1 0 0 1.09 0 -37.148)" >Processing</text>
<text x="480.50" y="463.25" font-size="5.7" text-anchor="start" fill="#231f20" transform="matrix(1 0 0 1.09 0 -41.693)" >Metabolism</text>
<text x="480.50" y="507.75" font-size="5.7" text-anchor="start" fill="#231f20" transform="matrix(1 0 0 1.09 0 -45.698)" word-spacing="1.5">Organismal Systems</text>
<line x1="375.90" y1="510.90" x2="465.90" y2="510.90" stroke="#231f20" stroke-width="1.0"/>
<line x1="376.40" y1="510.90" x2="376.40" y2="513.80" stroke="#231f20" stroke-width="1.0"/>
<text x="376.40" y="519.95" font-size="5.7" text-anchor="middle" fill="#231f20" transform="matrix(1 0 0 1.09 0 -46.796)" >0</text>
<line x1="391.30" y1="510.90" x2="391.30" y2="513.80" stroke="#231f20" stroke-width="1.0"/>
<text x="391.30" y="519.95" font-size="5.7" text-anchor="middle" fill="#231f20" transform="matrix(1 0 0 1.09 0 -46.796)" >10</text>
<line x1="406.20" y1="510.90" x2="406.20" y2="513.80" stroke="#231f20" stroke-width="1.0"/>
<text x="406.20" y="519.95" font-size="5.7" text-anchor="middle" fill="#231f20" transform="matrix(1 0 0 1.09 0 -46.796)" >20</text>
<line x1="421.10" y1="510.90" x2="421.10" y2="513.80" stroke="#231f20" stroke-width="1.0"/>
<text x="421.10" y="519.95" font-size="5.7" text-anchor="middle" fill="#231f20" transform="matrix(1 0 0 1.09 0 -46.796)" >30</text>
<line x1="436.00" y1="510.90" x2="436.00" y2="513.80" stroke="#231f20" stroke-width="1.0"/>
<text x="436.00" y="519.95" font-size="5.7" text-anchor="middle" fill="#231f20" transform="matrix(1 0 0 1.09 0 -46.796)" >40</text>
<line x1="450.90" y1="510.90" x2="450.90" y2="513.80" stroke="#231f20" stroke-width="1.0"/>
<text x="450.90" y="519.95" font-size="5.7" text-anchor="middle" fill="#231f20" transform="matrix(1 0 0 1.09 0 -46.796)" >50</text>
<line x1="465.80" y1="510.90" x2="465.80" y2="513.80" stroke="#231f20" stroke-width="1.0"/>
<text x="465.80" y="519.95" font-size="5.7" text-anchor="middle" fill="#231f20" transform="matrix(1 0 0 1.09 0 -46.796)" >60</text>
<text x="423.50" y="527.15" font-size="5.7" text-anchor="middle" fill="#231f20" transform="matrix(1 0 0 1.09 0 -47.444)" >Percent(%)</text>
</svg>
</body></html>
